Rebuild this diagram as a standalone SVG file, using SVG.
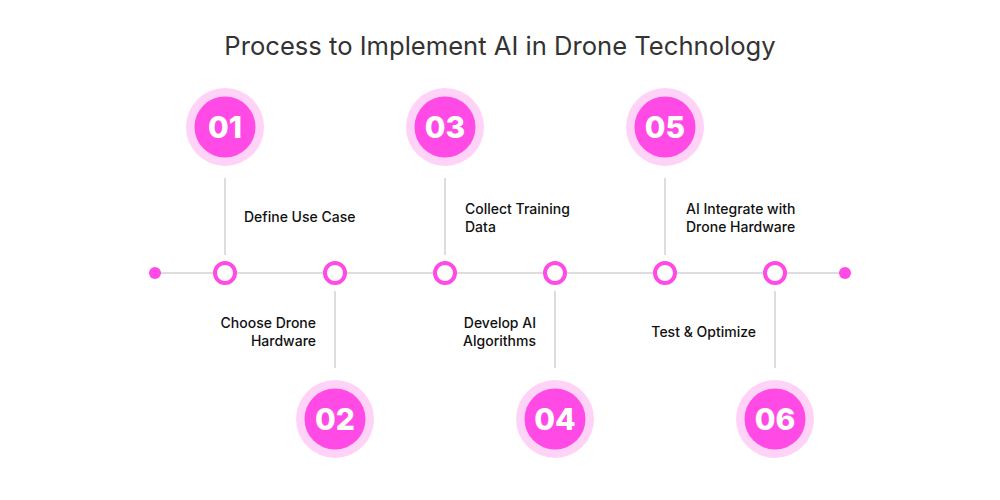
<svg xmlns="http://www.w3.org/2000/svg" width="1000" height="500" viewBox="0 0 1000 500">
<style>
.title{font-family:Inter,"Liberation Sans",sans-serif;font-size:25.6px;fill:#333;}
.halo{fill:#ffd3f7;}
.core{fill:#ff4ae6;}
.num{font-family:Inter,"Liberation Sans",sans-serif;font-weight:800;font-size:30px;fill:#fff;text-anchor:middle;}
.lbl{font-family:Inter,"Liberation Sans",sans-serif;font-weight:500;font-size:14px;fill:#111;}
.r{text-anchor:end;}
.ln{stroke:#dddddd;stroke-width:2;fill:none;}
.ring{fill:#fff;stroke:#ff4ae6;stroke-width:4;}
.dot{fill:#ff4ae6;}
</style>
<rect width="1000" height="500" fill="#fff"/>
<text class="title" x="500" y="55" text-anchor="middle">Process to Implement AI in Drone Technology</text>
<g id="connectors">
<line class="ln" x1="155" y1="273" x2="845" y2="273"/>
<line class="ln" x1="225" y1="178" x2="225" y2="255"/>
<line class="ln" x1="445" y1="178" x2="445" y2="255"/>
<line class="ln" x1="665" y1="178" x2="665" y2="255"/>
<line class="ln" x1="335" y1="291" x2="335" y2="368"/>
<line class="ln" x1="555" y1="291" x2="555" y2="368"/>
<line class="ln" x1="775" y1="291" x2="775" y2="368"/>
<circle class="dot" cx="155" cy="273" r="6"/>
<circle class="dot" cx="845" cy="273" r="6"/>
<circle class="ring" cx="225" cy="273" r="10"/>
<circle class="ring" cx="335" cy="273" r="10"/>
<circle class="ring" cx="445" cy="273" r="10"/>
<circle class="ring" cx="555" cy="273" r="10"/>
<circle class="ring" cx="665" cy="273" r="10"/>
<circle class="ring" cx="775" cy="273" r="10"/>
</g>
<g id="step1">
<circle class="halo" cx="225" cy="127" r="39"/><circle class="core" cx="225" cy="127" r="30.5"/>
<text class="num" x="225" y="138">01</text>
<text class="lbl" x="244" y="222">Define Use Case</text>
</g>
<g id="step2">
<circle class="halo" cx="335" cy="419" r="39"/><circle class="core" cx="335" cy="419" r="30.5"/>
<text class="num" x="335" y="430">02</text>
<text class="lbl r" x="316" y="328">Choose Drone</text>
<text class="lbl r" x="316" y="346">Hardware</text>
</g>
<g id="step3">
<circle class="halo" cx="445" cy="127" r="39"/><circle class="core" cx="445" cy="127" r="30.5"/>
<text class="num" x="445" y="138">03</text>
<text class="lbl" x="465" y="214">Collect Training</text>
<text class="lbl" x="465" y="232">Data</text>
</g>
<g id="step4">
<circle class="halo" cx="555" cy="419" r="39"/><circle class="core" cx="555" cy="419" r="30.5"/>
<text class="num" x="555" y="430">04</text>
<text class="lbl r" x="536" y="328">Develop AI</text>
<text class="lbl r" x="536" y="346">Algorithms</text>
</g>
<g id="step5">
<circle class="halo" cx="665" cy="127" r="39"/><circle class="core" cx="665" cy="127" r="30.5"/>
<text class="num" x="665" y="138">05</text>
<text class="lbl" x="686" y="214">AI Integrate with</text>
<text class="lbl" x="686" y="232">Drone Hardware</text>
</g>
<g id="step6">
<circle class="halo" cx="775" cy="419" r="39"/><circle class="core" cx="775" cy="419" r="30.5"/>
<text class="num" x="775" y="430">06</text>
<text class="lbl r" x="756" y="337">Test &amp; Optimize</text>
</g>
</svg>
